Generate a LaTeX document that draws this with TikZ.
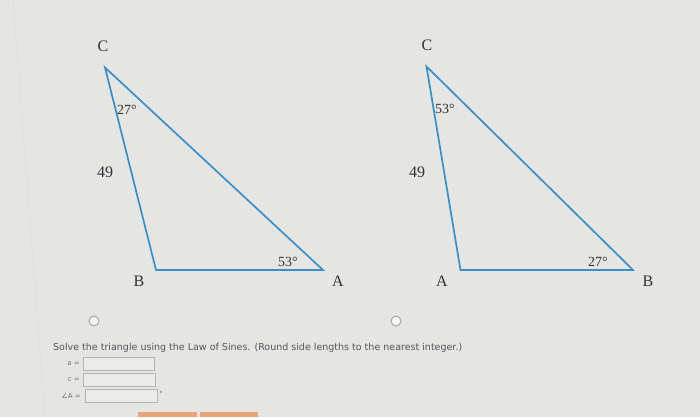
\documentclass[tikz,border=0pt]{standalone}
\usepackage{fontspec}
\usepackage{graphicx}
\setmainfont{Liberation Serif}
\newfontfamily\uisans{DejaVu Sans}
\definecolor{bg}{HTML}{E5E5E3}
\definecolor{tri}{HTML}{3C8FC6}
\definecolor{lbl}{HTML}{333333}
\definecolor{uitext}{HTML}{555555}
\definecolor{boxline}{HTML}{B4B4B2}
\definecolor{boxfill}{HTML}{EBEBE9}
\definecolor{btn}{HTML}{E9A57A}
\tikzset{
  triline/.style={draw=tri, line width=1.7pt, line join=miter},
  vlabel/.style={text=lbl, font=\fontsize{16}{16}\selectfont, inner sep=0pt},
  alabel/.style={text=lbl, font=\fontsize{14}{14}\selectfont, inner sep=0pt},
  radio/.style={draw=black!35, line width=1pt, fill=white!60!bg, circle, minimum size=10pt, inner sep=0pt},
  ansbox/.style={draw=boxline, line width=0.8pt, fill=boxfill},
  smalltext/.style={text=uitext!80, font=\uisans\fontsize{7}{7}\selectfont, inner sep=0pt}
}
\begin{document}
\begin{tikzpicture}[x=1pt,y=-1pt]
\fill[bg] (0,0) rectangle (700,417);
\useasboundingbox (0,0) rectangle (700,417);
\draw[black!12, line width=0.8pt] (13,0) -- (45,417);
% left triangle
\coordinate (lC) at (105,67.5);
\coordinate (lB) at (156,270);
\coordinate (lA) at (323,270);
\draw[triline] (lC) -- (lB) -- (lA) -- cycle;
\node[vlabel] (lCl) at (103,46) {C};
\node[vlabel] (lBl) at (139,281) {B};
\node[vlabel] (lAl) at (338,281) {A};
\node[vlabel] (l49) at (105,172) {49};
\node[alabel] (l27) at (127,110) {27°};
\node[alabel] (l53) at (288,262) {53°};
% right triangle
\coordinate (rC) at (426.5,66.5);
\coordinate (rA) at (460.5,270);
\coordinate (rB) at (633,270);
\draw[triline] (rC) -- (rA) -- (rB) -- cycle;
\node[vlabel] (rCl) at (427,45) {C};
\node[vlabel] (rAl) at (442,281) {A};
\node[vlabel] (rBl) at (648,281) {B};
\node[vlabel] (r49) at (417,172) {49};
\node[alabel] (r53) at (445,109) {53°};
\node[alabel] (r27) at (598,262) {27°};
% radio buttons
\node[radio] (rad1) at (94,321) {};
\node[radio] (rad2) at (396,321) {};
% question text
\node[text=uitext, inner sep=0pt, anchor=west] (q) at (53,348) {\resizebox{409pt}{!}{\uisans Solve the triangle using the Law of Sines. (Round side lengths to the nearest integer.)}};
\node[smalltext, anchor=east] (la) at (80,363.5) {a =};
\node[smalltext, anchor=east] (lc) at (80,379.5) {c =};
\node[smalltext, anchor=east] (lang) at (81,395.5) {∠A =};
\draw[ansbox] (83,357) rectangle (154,370);
\draw[ansbox] (83,373) rectangle (155,386);
\draw[ansbox] (85,389) rectangle (157,402);
\node[smalltext] (deg) at (161,394) {°};
% buttons at the bottom edge
\fill[btn] (138,412) rectangle (197,417);
\fill[btn] (200,412) rectangle (258,417);
\end{tikzpicture}
\end{document}
